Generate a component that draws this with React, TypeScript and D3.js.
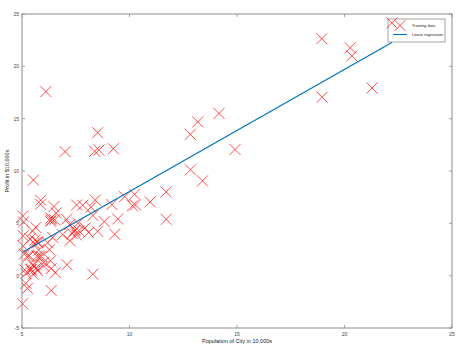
import React from 'react';
import * as d3 from 'd3';

// ex1data1: population (10,000s) vs profit ($10,000s)
const population = [
  6.1101, 5.5277, 8.5186, 7.0032, 5.8598, 8.3829, 7.4764, 8.5781, 6.4862, 5.0546,
  5.7107, 14.164, 5.734, 8.4084, 5.6407, 5.3794, 6.3654, 5.1301, 6.4296, 7.0708,
  6.1891, 20.27, 5.4901, 6.3261, 5.5649, 18.945, 12.828, 10.957, 13.176, 22.203,
  5.2524, 6.5894, 9.2482, 5.8918, 8.2111, 7.9334, 8.0959, 5.6063, 12.836, 6.3534,
  5.4069, 6.8825, 11.708, 5.7737, 7.8247, 7.0931, 5.0702, 5.8014, 11.7, 5.5416,
  7.5402, 5.3077, 7.4239, 7.6031, 6.3328, 6.3589, 6.2742, 5.6397, 9.3102, 9.4536,
  8.8254, 5.1793, 21.279, 14.908, 18.959, 7.2182, 8.2951, 10.236, 5.4994, 20.341,
  10.136, 7.3345, 6.0062, 7.2259, 5.0269, 6.5479, 7.5386, 5.0365, 10.274, 5.1077,
  5.7292, 5.1884, 6.3557, 9.7687, 6.5159, 8.5172, 9.1802, 6.002, 5.5204, 5.0594,
  5.7077, 7.6366, 5.8707, 5.3054, 8.2934, 13.394, 5.4369,
];
const profit = [
  17.592, 9.1302, 13.662, 11.854, 6.8233, 11.886, 4.3483, 12, 6.5987, 3.8166,
  3.2522, 15.505, 3.1551, 7.2258, 0.71618, 3.5129, 5.3048, 0.56077, 3.6518, 5.3893,
  3.1386, 21.767, 4.263, 5.1875, 3.0825, 22.638, 13.501, 7.0467, 14.692, 24.147,
  -1.22, 5.9966, 12.134, 1.8495, 6.5426, 4.5623, 4.1164, 3.3928, 10.117, 5.4974,
  0.55657, 3.9115, 5.3854, 2.4406, 6.7318, 1.0463, 5.1337, 1.844, 8.0043, 1.0179,
  6.7504, 1.8396, 4.2885, 4.9981, 1.4233, -1.4211, 2.4756, 4.6042, 3.9624, 5.4141,
  5.1694, -0.74279, 17.929, 12.054, 17.054, 4.8852, 5.7442, 7.7754, 1.0173, 20.992,
  6.6799, 4.0259, 1.2784, 3.3411, -2.6807, 0.29678, 3.8845, 5.7014, 6.7526, 2.0576,
  0.47953, 0.20421, 0.67861, 7.5435, 5.3436, 4.2415, 6.7981, 0.92695, 0.152, 2.8214,
  1.8451, 4.2959, 7.2029, 1.9869, 0.14454, 9.0551, 0.61705,
];
const theta = [-3.6303, 1.1664];
const xTicks = [5, 10, 15, 20, 25];
const yTicks = [-5, 0, 5, 10, 15, 20, 25];
const legendLabels = ['Training data', 'Linear regression'];

const W = 474, H = 354;
const margin = { top: 14, right: 22, bottom: 26, left: 22 };

const App = () => {
  const x = d3.scaleLinear().domain([5, 25]).range([margin.left, W - margin.right]);
  const y = d3.scaleLinear().domain([-5, 25]).range([H - margin.bottom, margin.top]);
  const points = population.map((p, i) => ({ p, v: profit[i] }));
  const xs = d3.extent(population) as [number, number];
  const line = d3.line<number>().x(d => x(d)).y(d => y(theta[0] + theta[1] * d));
  const cross = (cx: number, cy: number, ms = 5.5) =>
    `M${cx - ms},${cy - ms}L${cx + ms},${cy + ms}M${cx - ms},${cy + ms}L${cx + ms},${cy - ms}`;
  const [x0, x1] = x.range();
  const [y0, y1] = y.range();
  const axisColor = '#8c8c8c';
  const lx = 388, ly = 19;

  return (
    <svg width={W} height={H} style={{ position: 'absolute', left: 0, top: 0, background: '#fff' }}
      fontFamily="'Liberation Sans', Arial, sans-serif">
      <rect x={0} y={0} width={W} height={H} fill="#fff" />
      {/* ticks, inward on all four sides */}
      {xTicks.map(t => (
        <g key={'x' + t} stroke={axisColor} strokeWidth={0.8}>
          <line x1={x(t)} x2={x(t)} y1={y0} y2={y0 - 3} />
          <line x1={x(t)} x2={x(t)} y1={y1} y2={y1 + 3} />
        </g>
      ))}
      {yTicks.map(t => (
        <g key={'y' + t} stroke={axisColor} strokeWidth={0.8}>
          <line x1={x0} x2={x0 + 3} y1={y(t)} y2={y(t)} />
          <line x1={x1} x2={x1 - 3} y1={y(t)} y2={y(t)} />
        </g>
      ))}
      {xTicks.map(t => (
        <text key={'xl' + t} x={x(t)} y={y0 + 8} fontSize={5} textAnchor="middle" fill="#444">{t}</text>
      ))}
      {yTicks.map(t => (
        <text key={'yl' + t} x={x0 - 3} y={y(t) + 2} fontSize={5} textAnchor="end" fill="#444">{t}</text>
      ))}
      <rect x={lx} y={ly} width={57} height={23} fill="#fff" stroke={axisColor} strokeWidth={0.8} />
      {points.map((d, i) => (
        <path key={i} d={cross(x(d.p), y(d.v))} stroke="#ff2020" strokeWidth={0.8} fill="none" />
      ))}
      <path d={line(xs) || ''} stroke="#0072bd" strokeWidth={1.2} fill="none" />
      <rect x={x0} y={y1} width={x1 - x0} height={y0 - y1} fill="none" stroke={axisColor} strokeWidth={1} />
      {/* legend */}
      <path d={cross(lx + 12, ly + 6.5)} stroke="#ff2020" strokeWidth={0.8} fill="none" />
      <line x1={lx + 5} x2={lx + 19} y1={ly + 15.5} y2={ly + 15.5} stroke="#0072bd" strokeWidth={1} />
      {legendLabels.map((l, i) => (
        <text key={l} x={lx + 24} y={ly + 8 + i * 9} fontSize={4} fill="#222">{l}</text>
      ))}
      <text x={(x0 + x1) / 2} y={H - 11} fontSize={5.5} textAnchor="middle" fill="#222">Population of City in 10,000s</text>
      <text transform={`translate(9,${(y0 + y1) / 2}) rotate(-90)`} fontSize={5.5} textAnchor="middle" fill="#222">Profit in $10,000s</text>
    </svg>
  );
};

export default App;
